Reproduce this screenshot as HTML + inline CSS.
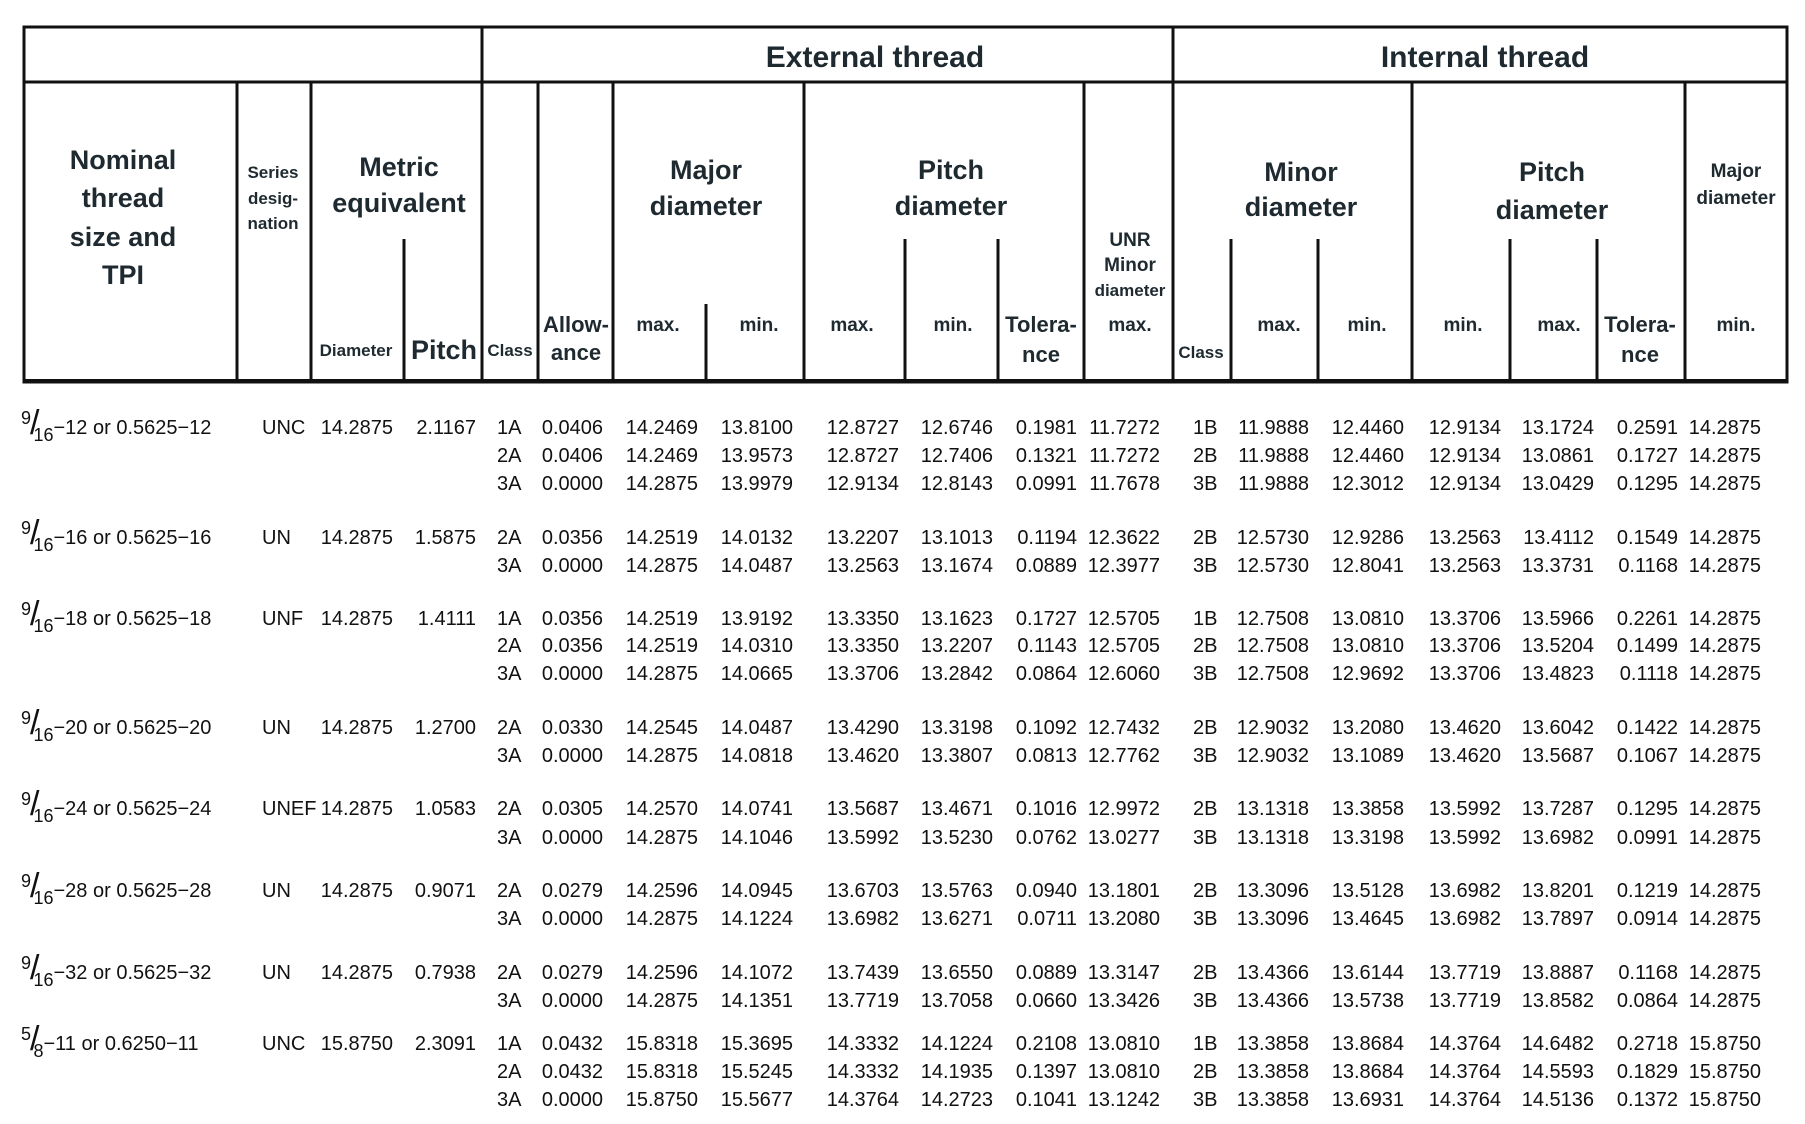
<!DOCTYPE html>
<html><head><meta charset="utf-8"><style>
html,body{margin:0;padding:0;background:#fff;width:1805px;height:1124px;overflow:hidden}
svg{display:block}
.h{font-family:"Liberation Sans",sans-serif;font-weight:bold;fill:#1e2a30;text-anchor:middle}
.d{font-family:"Liberation Sans",sans-serif;font-size:20px;fill:#111}
</style></head><body>
<svg width="1805" height="1124" viewBox="0 0 1805 1124" xmlns="http://www.w3.org/2000/svg">
<g stroke="#111" stroke-width="3" fill="none">
<rect x="24" y="27" width="1763" height="355"/>
<line x1="24" y1="82" x2="1787" y2="82"/>
<line x1="24" y1="381" x2="1787" y2="381" stroke-width="4"/>
<line x1="482" y1="27" x2="482" y2="382"/>
<line x1="1173" y1="27" x2="1173" y2="382"/>
<line x1="237" y1="82" x2="237" y2="382"/>
<line x1="311" y1="82" x2="311" y2="382"/>
<line x1="404" y1="239" x2="404" y2="382"/>
<line x1="538" y1="82" x2="538" y2="382"/>
<line x1="613" y1="82" x2="613" y2="382"/>
<line x1="706" y1="304" x2="706" y2="382"/>
<line x1="804" y1="82" x2="804" y2="382"/>
<line x1="905" y1="239" x2="905" y2="382"/>
<line x1="998" y1="239" x2="998" y2="382"/>
<line x1="1084" y1="82" x2="1084" y2="382"/>
<line x1="1231" y1="239" x2="1231" y2="382"/>
<line x1="1318" y1="239" x2="1318" y2="382"/>
<line x1="1412" y1="82" x2="1412" y2="382"/>
<line x1="1510" y1="239" x2="1510" y2="382"/>
<line x1="1597" y1="239" x2="1597" y2="382"/>
<line x1="1685" y1="82" x2="1685" y2="382"/>
</g>
<text class="h" x="875" y="67" font-size="30">External thread</text>
<text class="h" x="1485" y="67" font-size="30">Internal thread</text>
<g class="h" font-size="27">
<text x="123" y="169">Nominal</text><text x="123" y="207">thread</text><text x="123" y="246">size and</text><text x="123" y="284">TPI</text>
<text x="399" y="176">Metric</text><text x="399" y="212">equivalent</text>
<text x="444" y="359">Pitch</text>
<text x="706" y="179">Major</text><text x="706" y="215">diameter</text>
<text x="951" y="179">Pitch</text><text x="951" y="215">diameter</text>
<text x="1301" y="181">Minor</text><text x="1301" y="216">diameter</text>
<text x="1552" y="181">Pitch</text><text x="1552" y="219">diameter</text>
</g>
<g class="h" font-size="17">
<text x="273" y="178">Series</text><text x="273" y="204">desig-</text><text x="273" y="229">nation</text>
<text x="356" y="356">Diameter</text>
<text x="510" y="356">Class</text>
<text x="1201" y="358">Class</text>
<text x="1130" y="296">diameter</text>
</g>
<g class="h" font-size="19">
<text x="1130" y="246">UNR</text><text x="1130" y="271">Minor</text>
<text x="1736" y="177">Major</text><text x="1736" y="204">diameter</text>
<text x="658" y="331">max.</text><text x="759" y="331">min.</text>
<text x="852" y="331">max.</text><text x="953" y="331">min.</text>
<text x="1130" y="331">max.</text>
<text x="1279" y="331">max.</text><text x="1367" y="331">min.</text>
<text x="1463" y="331">min.</text><text x="1559" y="331">max.</text>
<text x="1736" y="331">min.</text>
</g>
<g class="h" font-size="22">
<text x="576" y="332">Allow-</text><text x="576" y="360">ance</text>
<text x="1041" y="332">Tolera-</text><text x="1041" y="362">nce</text>
<text x="1640" y="332">Tolera-</text><text x="1640" y="362">nce</text>
</g>

<g class="d">
<g font-size="20">
<text x="21" y="434"><tspan font-size="18" dy="-10">9</tspan><tspan font-size="34" dy="10" dx="-1">/</tspan><tspan font-size="18" dy="7" dx="-6">16</tspan><tspan dy="-7">−12 or 0.5625−12</tspan></text>
<text x="21" y="544"><tspan font-size="18" dy="-10">9</tspan><tspan font-size="34" dy="10" dx="-1">/</tspan><tspan font-size="18" dy="7" dx="-6">16</tspan><tspan dy="-7">−16 or 0.5625−16</tspan></text>
<text x="21" y="625"><tspan font-size="18" dy="-10">9</tspan><tspan font-size="34" dy="10" dx="-1">/</tspan><tspan font-size="18" dy="7" dx="-6">16</tspan><tspan dy="-7">−18 or 0.5625−18</tspan></text>
<text x="21" y="734"><tspan font-size="18" dy="-10">9</tspan><tspan font-size="34" dy="10" dx="-1">/</tspan><tspan font-size="18" dy="7" dx="-6">16</tspan><tspan dy="-7">−20 or 0.5625−20</tspan></text>
<text x="21" y="815"><tspan font-size="18" dy="-10">9</tspan><tspan font-size="34" dy="10" dx="-1">/</tspan><tspan font-size="18" dy="7" dx="-6">16</tspan><tspan dy="-7">−24 or 0.5625−24</tspan></text>
<text x="21" y="897"><tspan font-size="18" dy="-10">9</tspan><tspan font-size="34" dy="10" dx="-1">/</tspan><tspan font-size="18" dy="7" dx="-6">16</tspan><tspan dy="-7">−28 or 0.5625−28</tspan></text>
<text x="21" y="979"><tspan font-size="18" dy="-10">9</tspan><tspan font-size="34" dy="10" dx="-1">/</tspan><tspan font-size="18" dy="7" dx="-6">16</tspan><tspan dy="-7">−32 or 0.5625−32</tspan></text>
<text x="21" y="1050"><tspan font-size="18" dy="-10">5</tspan><tspan font-size="34" dy="10" dx="-1">/</tspan><tspan font-size="18" dy="7" dx="-6">8</tspan><tspan dy="-7">−11 or 0.6250−11</tspan></text>
</g>
<text x="262" y="434">UNC</text><text x="262" y="544">UN</text><text x="262" y="625">UNF</text><text x="262" y="734">UN</text><text x="262" y="815">UNEF</text><text x="262" y="897">UN</text><text x="262" y="979">UN</text><text x="262" y="1050">UNC</text>
<g text-anchor="end">
<text y="434"><tspan x="393">14.2875</tspan><tspan x="476">2.1167</tspan></text>
<text y="544"><tspan x="393">14.2875</tspan><tspan x="476">1.5875</tspan></text>
<text y="625"><tspan x="393">14.2875</tspan><tspan x="476">1.4111</tspan></text>
<text y="734"><tspan x="393">14.2875</tspan><tspan x="476">1.2700</tspan></text>
<text y="815"><tspan x="393">14.2875</tspan><tspan x="476">1.0583</tspan></text>
<text y="897"><tspan x="393">14.2875</tspan><tspan x="476">0.9071</tspan></text>
<text y="979"><tspan x="393">14.2875</tspan><tspan x="476">0.7938</tspan></text>
<text y="1050"><tspan x="393">15.8750</tspan><tspan x="476">2.3091</tspan></text>
</g>
<g>
<text y="434"><tspan x="497">1A</tspan><tspan x="1193">1B</tspan></text>
<text y="462"><tspan x="497">2A</tspan><tspan x="1193">2B</tspan></text>
<text y="490"><tspan x="497">3A</tspan><tspan x="1193">3B</tspan></text>
<text y="544"><tspan x="497">2A</tspan><tspan x="1193">2B</tspan></text>
<text y="572"><tspan x="497">3A</tspan><tspan x="1193">3B</tspan></text>
<text y="625"><tspan x="497">1A</tspan><tspan x="1193">1B</tspan></text>
<text y="652"><tspan x="497">2A</tspan><tspan x="1193">2B</tspan></text>
<text y="680"><tspan x="497">3A</tspan><tspan x="1193">3B</tspan></text>
<text y="734"><tspan x="497">2A</tspan><tspan x="1193">2B</tspan></text>
<text y="762"><tspan x="497">3A</tspan><tspan x="1193">3B</tspan></text>
<text y="815"><tspan x="497">2A</tspan><tspan x="1193">2B</tspan></text>
<text y="844"><tspan x="497">3A</tspan><tspan x="1193">3B</tspan></text>
<text y="897"><tspan x="497">2A</tspan><tspan x="1193">2B</tspan></text>
<text y="925"><tspan x="497">3A</tspan><tspan x="1193">3B</tspan></text>
<text y="979"><tspan x="497">2A</tspan><tspan x="1193">2B</tspan></text>
<text y="1007"><tspan x="497">3A</tspan><tspan x="1193">3B</tspan></text>
<text y="1050"><tspan x="497">1A</tspan><tspan x="1193">1B</tspan></text>
<text y="1078"><tspan x="497">2A</tspan><tspan x="1193">2B</tspan></text>
<text y="1106"><tspan x="497">3A</tspan><tspan x="1193">3B</tspan></text>
</g>
<g text-anchor="end">
<text y="434"><tspan x="603">0.0406</tspan><tspan x="698">14.2469</tspan><tspan x="793">13.8100</tspan><tspan x="899">12.8727</tspan><tspan x="993">12.6746</tspan><tspan x="1077">0.1981</tspan><tspan x="1160">11.7272</tspan><tspan x="1309">11.9888</tspan><tspan x="1404">12.4460</tspan><tspan x="1501">12.9134</tspan><tspan x="1594">13.1724</tspan><tspan x="1678">0.2591</tspan><tspan x="1761">14.2875</tspan></text>
<text y="462"><tspan x="603">0.0406</tspan><tspan x="698">14.2469</tspan><tspan x="793">13.9573</tspan><tspan x="899">12.8727</tspan><tspan x="993">12.7406</tspan><tspan x="1077">0.1321</tspan><tspan x="1160">11.7272</tspan><tspan x="1309">11.9888</tspan><tspan x="1404">12.4460</tspan><tspan x="1501">12.9134</tspan><tspan x="1594">13.0861</tspan><tspan x="1678">0.1727</tspan><tspan x="1761">14.2875</tspan></text>
<text y="490"><tspan x="603">0.0000</tspan><tspan x="698">14.2875</tspan><tspan x="793">13.9979</tspan><tspan x="899">12.9134</tspan><tspan x="993">12.8143</tspan><tspan x="1077">0.0991</tspan><tspan x="1160">11.7678</tspan><tspan x="1309">11.9888</tspan><tspan x="1404">12.3012</tspan><tspan x="1501">12.9134</tspan><tspan x="1594">13.0429</tspan><tspan x="1678">0.1295</tspan><tspan x="1761">14.2875</tspan></text>
<text y="544"><tspan x="603">0.0356</tspan><tspan x="698">14.2519</tspan><tspan x="793">14.0132</tspan><tspan x="899">13.2207</tspan><tspan x="993">13.1013</tspan><tspan x="1077">0.1194</tspan><tspan x="1160">12.3622</tspan><tspan x="1309">12.5730</tspan><tspan x="1404">12.9286</tspan><tspan x="1501">13.2563</tspan><tspan x="1594">13.4112</tspan><tspan x="1678">0.1549</tspan><tspan x="1761">14.2875</tspan></text>
<text y="572"><tspan x="603">0.0000</tspan><tspan x="698">14.2875</tspan><tspan x="793">14.0487</tspan><tspan x="899">13.2563</tspan><tspan x="993">13.1674</tspan><tspan x="1077">0.0889</tspan><tspan x="1160">12.3977</tspan><tspan x="1309">12.5730</tspan><tspan x="1404">12.8041</tspan><tspan x="1501">13.2563</tspan><tspan x="1594">13.3731</tspan><tspan x="1678">0.1168</tspan><tspan x="1761">14.2875</tspan></text>
<text y="625"><tspan x="603">0.0356</tspan><tspan x="698">14.2519</tspan><tspan x="793">13.9192</tspan><tspan x="899">13.3350</tspan><tspan x="993">13.1623</tspan><tspan x="1077">0.1727</tspan><tspan x="1160">12.5705</tspan><tspan x="1309">12.7508</tspan><tspan x="1404">13.0810</tspan><tspan x="1501">13.3706</tspan><tspan x="1594">13.5966</tspan><tspan x="1678">0.2261</tspan><tspan x="1761">14.2875</tspan></text>
<text y="652"><tspan x="603">0.0356</tspan><tspan x="698">14.2519</tspan><tspan x="793">14.0310</tspan><tspan x="899">13.3350</tspan><tspan x="993">13.2207</tspan><tspan x="1077">0.1143</tspan><tspan x="1160">12.5705</tspan><tspan x="1309">12.7508</tspan><tspan x="1404">13.0810</tspan><tspan x="1501">13.3706</tspan><tspan x="1594">13.5204</tspan><tspan x="1678">0.1499</tspan><tspan x="1761">14.2875</tspan></text>
<text y="680"><tspan x="603">0.0000</tspan><tspan x="698">14.2875</tspan><tspan x="793">14.0665</tspan><tspan x="899">13.3706</tspan><tspan x="993">13.2842</tspan><tspan x="1077">0.0864</tspan><tspan x="1160">12.6060</tspan><tspan x="1309">12.7508</tspan><tspan x="1404">12.9692</tspan><tspan x="1501">13.3706</tspan><tspan x="1594">13.4823</tspan><tspan x="1678">0.1118</tspan><tspan x="1761">14.2875</tspan></text>
<text y="734"><tspan x="603">0.0330</tspan><tspan x="698">14.2545</tspan><tspan x="793">14.0487</tspan><tspan x="899">13.4290</tspan><tspan x="993">13.3198</tspan><tspan x="1077">0.1092</tspan><tspan x="1160">12.7432</tspan><tspan x="1309">12.9032</tspan><tspan x="1404">13.2080</tspan><tspan x="1501">13.4620</tspan><tspan x="1594">13.6042</tspan><tspan x="1678">0.1422</tspan><tspan x="1761">14.2875</tspan></text>
<text y="762"><tspan x="603">0.0000</tspan><tspan x="698">14.2875</tspan><tspan x="793">14.0818</tspan><tspan x="899">13.4620</tspan><tspan x="993">13.3807</tspan><tspan x="1077">0.0813</tspan><tspan x="1160">12.7762</tspan><tspan x="1309">12.9032</tspan><tspan x="1404">13.1089</tspan><tspan x="1501">13.4620</tspan><tspan x="1594">13.5687</tspan><tspan x="1678">0.1067</tspan><tspan x="1761">14.2875</tspan></text>
<text y="815"><tspan x="603">0.0305</tspan><tspan x="698">14.2570</tspan><tspan x="793">14.0741</tspan><tspan x="899">13.5687</tspan><tspan x="993">13.4671</tspan><tspan x="1077">0.1016</tspan><tspan x="1160">12.9972</tspan><tspan x="1309">13.1318</tspan><tspan x="1404">13.3858</tspan><tspan x="1501">13.5992</tspan><tspan x="1594">13.7287</tspan><tspan x="1678">0.1295</tspan><tspan x="1761">14.2875</tspan></text>
<text y="844"><tspan x="603">0.0000</tspan><tspan x="698">14.2875</tspan><tspan x="793">14.1046</tspan><tspan x="899">13.5992</tspan><tspan x="993">13.5230</tspan><tspan x="1077">0.0762</tspan><tspan x="1160">13.0277</tspan><tspan x="1309">13.1318</tspan><tspan x="1404">13.3198</tspan><tspan x="1501">13.5992</tspan><tspan x="1594">13.6982</tspan><tspan x="1678">0.0991</tspan><tspan x="1761">14.2875</tspan></text>
<text y="897"><tspan x="603">0.0279</tspan><tspan x="698">14.2596</tspan><tspan x="793">14.0945</tspan><tspan x="899">13.6703</tspan><tspan x="993">13.5763</tspan><tspan x="1077">0.0940</tspan><tspan x="1160">13.1801</tspan><tspan x="1309">13.3096</tspan><tspan x="1404">13.5128</tspan><tspan x="1501">13.6982</tspan><tspan x="1594">13.8201</tspan><tspan x="1678">0.1219</tspan><tspan x="1761">14.2875</tspan></text>
<text y="925"><tspan x="603">0.0000</tspan><tspan x="698">14.2875</tspan><tspan x="793">14.1224</tspan><tspan x="899">13.6982</tspan><tspan x="993">13.6271</tspan><tspan x="1077">0.0711</tspan><tspan x="1160">13.2080</tspan><tspan x="1309">13.3096</tspan><tspan x="1404">13.4645</tspan><tspan x="1501">13.6982</tspan><tspan x="1594">13.7897</tspan><tspan x="1678">0.0914</tspan><tspan x="1761">14.2875</tspan></text>
<text y="979"><tspan x="603">0.0279</tspan><tspan x="698">14.2596</tspan><tspan x="793">14.1072</tspan><tspan x="899">13.7439</tspan><tspan x="993">13.6550</tspan><tspan x="1077">0.0889</tspan><tspan x="1160">13.3147</tspan><tspan x="1309">13.4366</tspan><tspan x="1404">13.6144</tspan><tspan x="1501">13.7719</tspan><tspan x="1594">13.8887</tspan><tspan x="1678">0.1168</tspan><tspan x="1761">14.2875</tspan></text>
<text y="1007"><tspan x="603">0.0000</tspan><tspan x="698">14.2875</tspan><tspan x="793">14.1351</tspan><tspan x="899">13.7719</tspan><tspan x="993">13.7058</tspan><tspan x="1077">0.0660</tspan><tspan x="1160">13.3426</tspan><tspan x="1309">13.4366</tspan><tspan x="1404">13.5738</tspan><tspan x="1501">13.7719</tspan><tspan x="1594">13.8582</tspan><tspan x="1678">0.0864</tspan><tspan x="1761">14.2875</tspan></text>
<text y="1050"><tspan x="603">0.0432</tspan><tspan x="698">15.8318</tspan><tspan x="793">15.3695</tspan><tspan x="899">14.3332</tspan><tspan x="993">14.1224</tspan><tspan x="1077">0.2108</tspan><tspan x="1160">13.0810</tspan><tspan x="1309">13.3858</tspan><tspan x="1404">13.8684</tspan><tspan x="1501">14.3764</tspan><tspan x="1594">14.6482</tspan><tspan x="1678">0.2718</tspan><tspan x="1761">15.8750</tspan></text>
<text y="1078"><tspan x="603">0.0432</tspan><tspan x="698">15.8318</tspan><tspan x="793">15.5245</tspan><tspan x="899">14.3332</tspan><tspan x="993">14.1935</tspan><tspan x="1077">0.1397</tspan><tspan x="1160">13.0810</tspan><tspan x="1309">13.3858</tspan><tspan x="1404">13.8684</tspan><tspan x="1501">14.3764</tspan><tspan x="1594">14.5593</tspan><tspan x="1678">0.1829</tspan><tspan x="1761">15.8750</tspan></text>
<text y="1106"><tspan x="603">0.0000</tspan><tspan x="698">15.8750</tspan><tspan x="793">15.5677</tspan><tspan x="899">14.3764</tspan><tspan x="993">14.2723</tspan><tspan x="1077">0.1041</tspan><tspan x="1160">13.1242</tspan><tspan x="1309">13.3858</tspan><tspan x="1404">13.6931</tspan><tspan x="1501">14.3764</tspan><tspan x="1594">14.5136</tspan><tspan x="1678">0.1372</tspan><tspan x="1761">15.8750</tspan></text>
</g>
</g>
</svg>
</body></html>
